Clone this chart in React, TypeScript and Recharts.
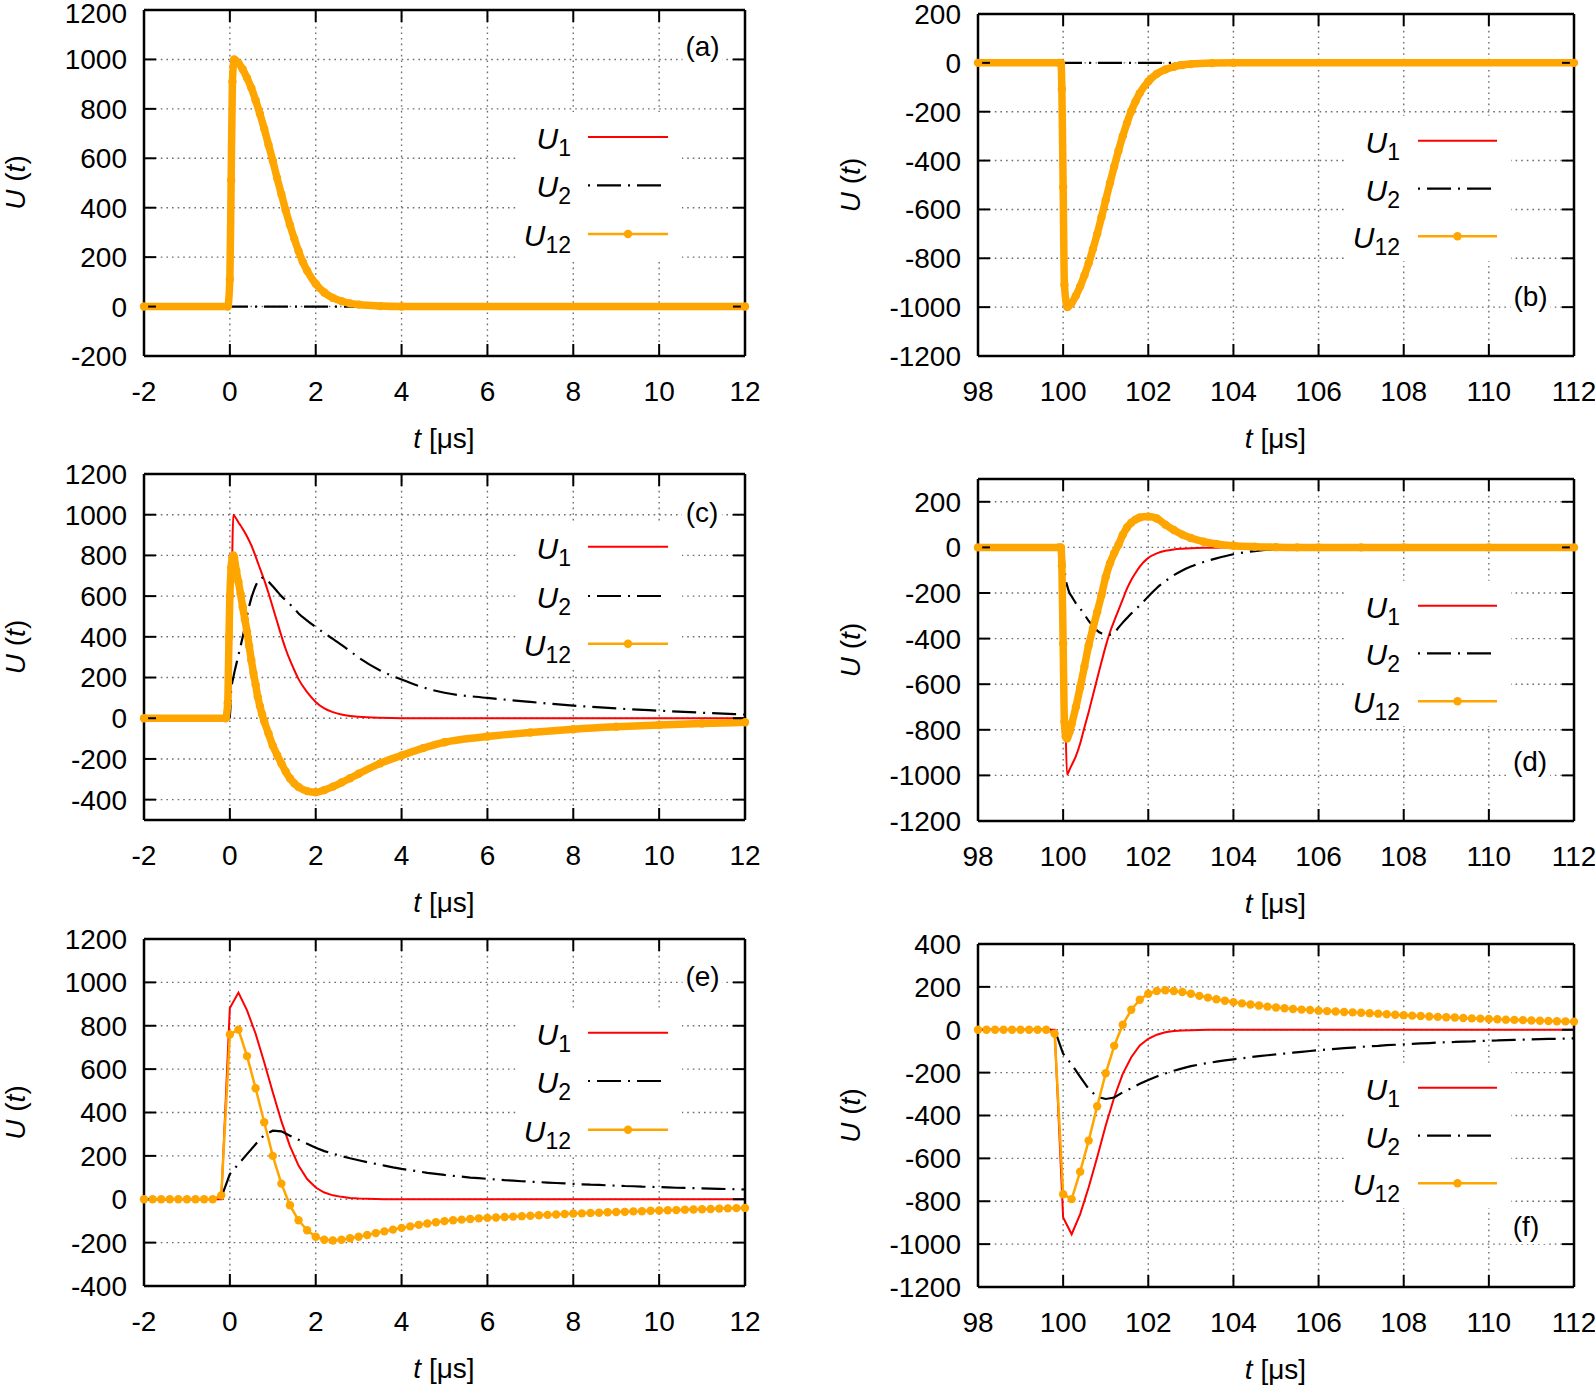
import React from 'react';
import { LineChart, Line, XAxis, YAxis, CartesianGrid } from 'recharts';

const FONT = '"Liberation Sans", Arial, Helvetica, sans-serif';
const RED = '#ff0000';
const ORANGE = '#ffa500';
const BLACK = '#000000';
const GRID = '#6e6e6e';

// ---- axis ticks ----
const xTicksLeft = [-2, 0, 2, 4, 6, 8, 10, 12];
const xTicksRight = [98, 100, 102, 104, 106, 108, 110, 112];
const yTicksA = [-200, 0, 200, 400, 600, 800, 1000, 1200];
const yTicksB = [-1200, -1000, -800, -600, -400, -200, 0, 200];
const yTicksC = [-400, -200, 0, 200, 400, 600, 800, 1000, 1200];
const yTicksD = [-1200, -1000, -800, -600, -400, -200, 0, 200];
const yTicksE = [-400, -200, 0, 200, 400, 600, 800, 1000, 1200];
const yTicksF = [-1200, -1000, -800, -600, -400, -200, 0, 200, 400];

// ---- panel (a) ----
const tA = [-2, -0.05, 0, 0.03, 0.06, 0.1, 0.2, 0.3, 0.4, 0.5, 0.6, 0.7, 0.8, 0.9, 1.0, 1.1, 1.2, 1.3, 1.4, 1.5, 1.6, 1.7, 1.8, 2.0, 2.2, 2.4, 2.6, 2.8, 3.0, 3.5, 4, 12];
const u12A = [0, 0, 110, 510, 910, 1000, 985, 960, 925, 885, 835, 780, 720, 655, 590, 520, 455, 390, 330, 275, 225, 180, 145, 92, 57, 35, 22, 13, 8, 2, 0, 0];
const u1A = u12A;
const tA2 = [-2, 12];
const u2A = [0, 0];

// ---- panel (b) ----
const tB = [98, 99.9, 99.95, 99.97, 100, 100.03, 100.1, 100.2, 100.3, 100.4, 100.5, 100.6, 100.7, 100.8, 100.9, 101.0, 101.1, 101.2, 101.3, 101.4, 101.5, 101.6, 101.7, 101.8, 102, 102.2, 102.4, 102.6, 102.8, 103, 103.5, 104, 112];
const u12B = [0, 0, 0, -108, -508, -908, -1000, -982, -953, -915, -870, -820, -762, -700, -632, -562, -492, -424, -360, -300, -246, -198, -158, -124, -76, -45, -27, -16, -9, -5, -1, 0, 0];
const u1B = u12B;
const tB2 = [98, 112];
const u2B = [0, 0];

// ---- panel (c) ----
const tC = [-2, -0.1, -0.05, -0.02, 0, 0.03, 0.06, 0.08, 0.1, 0.15, 0.2, 0.25, 0.3, 0.35, 0.4, 0.45, 0.5, 0.55, 0.6, 0.65, 0.7, 0.75, 0.8, 0.9, 1.0, 1.1, 1.2, 1.3, 1.4, 1.5, 1.6, 1.8, 2.0, 2.2, 2.4, 2.6, 2.8, 3.0, 3.5, 4.0, 4.5, 5.0, 6, 7, 8, 9, 10, 11, 12];
const u1C = [0, 0, 0, 0, 0, 400, 850, 1000, 995, 980, 962, 947, 930, 912, 893, 872, 850, 823, 795, 766, 737, 708, 680, 615, 545, 475, 405, 340, 285, 237, 192, 128, 80, 48, 30, 18, 11, 7, 2, 0, 0, 0, 0, 0, 0, 0, 0, 0, 0];
const u2C = [0, 0, 0, 0, 0, 140, 180, 200, 220, 265, 310, 355, 400, 450, 505, 550, 590, 622, 650, 670, 684, 690, 690, 672, 648, 624, 600, 580, 560, 538, 515, 480, 448, 418, 390, 360, 330, 298, 235, 190, 152, 125, 100, 80, 62, 48, 37, 27, 18];
const u12C = [0, 0, 75, 400, 600, 740, 790, 800, 790, 725, 670, 610, 545, 485, 425, 355, 285, 222, 165, 105, 60, 20, -15, -75, -135, -180, -222, -262, -295, -320, -338, -358, -364, -353, -336, -316, -295, -273, -222, -183, -147, -118, -90, -70, -54, -42, -33, -26, -20];

// ---- panel (d) ----
const tD = [98, 99.9, 99.95, 99.97, 100, 100.03, 100.06, 100.09, 100.15, 100.2, 100.3, 100.4, 100.5, 100.6, 100.7, 100.8, 100.9, 101.0, 101.1, 101.2, 101.3, 101.4, 101.5, 101.6, 101.7, 101.8, 102.0, 102.2, 102.4, 102.6, 102.8, 103.0, 103.3, 103.6, 104.0, 104.5, 105.0, 105.5, 106, 107, 108, 110, 112];
const u1D = [0, 0, 0, 0, 0, -400, -800, -996, -975, -955, -915, -860, -790, -722, -648, -575, -503, -433, -372, -322, -275, -228, -181, -143, -112, -84, -46, -26, -15, -9, -6, -4, -2, -1, 0, 0, 0, 0, 0, 0, 0, 0, 0];
const u2D = [0, 0, 0, 0, 0, -90, -140, -165, -200, -215, -245, -268, -295, -322, -345, -365, -377, -382, -383, -375, -352, -330, -310, -290, -272, -254, -215, -178, -148, -122, -101, -84, -64, -48, -30, -16, -8, -4, -2, 0, 0, 0, 0];
const u12D = [0, 0, 0, -82, -422, -765, -830, -838, -810, -775, -700, -614, -522, -430, -355, -283, -210, -130, -70, -25, 12, 55, 87, 108, 122, 131, 135, 127, 100, 76, 56, 41, 25, 15, 7, 3, 1, 0, 0, 0, 0, 0, 0];

// ---- panel (e) ----
const tE = [-2, -1.8, -1.6, -1.4, -1.2, -1, -0.8, -0.6, -0.4, -0.2, 0, 0.2, 0.4, 0.6, 0.8, 1, 1.2, 1.4, 1.6, 1.8, 2, 2.2, 2.4, 2.6, 2.8, 3, 3.2, 3.4, 3.6, 3.8, 4, 4.2, 4.4, 4.6, 4.8, 5, 5.2, 5.4, 5.6, 5.8, 6, 6.2, 6.4, 6.6, 6.8, 7, 7.2, 7.4, 7.6, 7.8, 8, 8.2, 8.4, 8.6, 8.8, 9, 9.2, 9.4, 9.6, 9.8, 10, 10.2, 10.4, 10.6, 10.8, 11, 11.2, 11.4, 11.6, 11.8, 12];
const u1E = [0, 0, 0, 0, 0, 0, 0, 0, 0, 0, 882, 953, 871, 763, 632, 493, 360, 245, 155, 93, 54, 31, 18, 11, 6, 3, 2, 1, 0, 0, 0, 0, 0, 0, 0, 0, 0, 0, 0, 0, 0, 0, 0, 0, 0, 0, 0, 0, 0, 0, 0, 0, 0, 0, 0, 0, 0, 0, 0, 0, 0, 0, 0, 0, 0, 0, 0, 0, 0, 0, 0];
const u2E = [0, 0, 0, 0, 0, 0, 0, 0, 0, 8, 116, 162, 208, 254, 296, 316, 313, 293, 274, 256, 237, 222, 210, 199, 189, 180, 171, 163, 155, 147, 140, 134, 128, 122, 117, 112, 108, 104, 100, 97, 94, 91, 88, 86, 83, 81, 79, 77, 75, 73, 71, 69, 67, 66, 64, 63, 61, 60, 58, 57, 56, 55, 53, 52, 51, 50, 49, 48, 47, 46, 45];
const u12E = [0, 0, 0, 0, 0, 0, 0, 0, 0, 18, 760, 782, 660, 512, 355, 200, 72, -28, -97, -143, -173, -187, -190, -187, -180, -173, -165, -156, -148, -140, -132, -125, -118, -112, -106, -101, -97, -94, -91, -88, -86, -84, -82, -80, -78, -76, -74, -72, -70, -68, -66, -65, -63, -62, -60, -59, -58, -56, -55, -53, -52, -51, -50, -48, -47, -46, -45, -43, -42, -41, -40];

// ---- panel (f) ----
const tF = [98, 98.2, 98.4, 98.6, 98.8, 99, 99.2, 99.4, 99.6, 99.8, 100, 100.2, 100.4, 100.6, 100.8, 101, 101.2, 101.4, 101.6, 101.8, 102, 102.2, 102.4, 102.6, 102.8, 103, 103.2, 103.4, 103.6, 103.8, 104, 104.2, 104.4, 104.6, 104.8, 105, 105.2, 105.4, 105.6, 105.8, 106, 106.2, 106.4, 106.6, 106.8, 107, 107.2, 107.4, 107.6, 107.8, 108, 108.2, 108.4, 108.6, 108.8, 109, 109.2, 109.4, 109.6, 109.8, 110, 110.2, 110.4, 110.6, 110.8, 111, 111.2, 111.4, 111.6, 111.8, 112];
const u1F = [0, 0, 0, 0, 0, 0, 0, 0, 0, 0, -876, -954, -860, -735, -595, -447, -315, -206, -128, -73, -42, -23, -12, -6, -3, -2, -1, 0, 0, 0, 0, 0, 0, 0, 0, 0, 0, 0, 0, 0, 0, 0, 0, 0, 0, 0, 0, 0, 0, 0, 0, 0, 0, 0, 0, 0, 0, 0, 0, 0, 0, 0, 0, 0, 0, 0, 0, 0, 0, 0, 0];
const u2F = [0, 0, 0, 0, 0, 0, 0, 0, 0, 0, -112, -162, -220, -276, -313, -323, -316, -292, -273, -252, -234, -218, -204, -191, -180, -170, -162, -155, -149, -143, -138, -133, -128, -123, -119, -115, -111, -107, -103, -99, -95, -92, -89, -86, -83, -80, -77, -75, -72, -70, -68, -66, -64, -62, -60, -58, -57, -55, -54, -52, -51, -50, -48, -47, -46, -45, -44, -43, -42, -41, -40];
const u12F = [0, 0, 0, 0, 0, 0, 0, 0, 0, -19, -767, -790, -662, -517, -357, -203, -75, 23, 93, 140, 168, 181, 184, 181, 176, 168, 158, 150, 142, 135, 129, 123, 118, 113, 108, 104, 100, 97, 94, 92, 89, 87, 85, 83, 81, 79, 77, 75, 72, 70, 68, 66, 64, 62, 60, 58, 57, 55, 53, 52, 50, 49, 47, 46, 45, 43, 42, 41, 40, 39, 38];

type Series = { t: number[]; v: number[] };
type Panel = {
  tag: string;
  col: 'L' | 'R';
  plot: { x: number; y: number; w: number; h: number };
  xDomain: [number, number];
  xTicks: number[];
  yDomain: [number, number];
  yTicks: number[];
  u1: Series;
  u2: Series;
  u12: Series;
  dense: boolean;
  legendYs: number[];
  tagX: number;
  tagY: number;
};

const panels: Panel[] = [
  {
    tag: '(a)', col: 'L', plot: { x: 143.5, y: 9.5, w: 601, h: 346 },
    xDomain: [-2, 12], xTicks: xTicksLeft, yDomain: [-200, 1200], yTicks: yTicksA,
    u1: { t: tA, v: u1A }, u2: { t: tA2, v: u2A }, u12: { t: tA, v: u12A }, dense: true,
    legendYs: [137, 185.3, 234], tagX: 702.5, tagY: 56,
  },
  {
    tag: '(b)', col: 'R', plot: { x: 977.5, y: 14, w: 596, h: 342 },
    xDomain: [98, 112], xTicks: xTicksRight, yDomain: [-1200, 200], yTicks: yTicksB,
    u1: { t: tB, v: u1B }, u2: { t: tB2, v: u2B }, u12: { t: tB, v: u12B }, dense: true,
    legendYs: [140.7, 188.7, 236.3], tagX: 1530.5, tagY: 306,
  },
  {
    tag: '(c)', col: 'L', plot: { x: 143.5, y: 474, w: 601, h: 346 },
    xDomain: [-2, 12], xTicks: xTicksLeft, yDomain: [-500, 1200], yTicks: yTicksC,
    u1: { t: tC, v: u1C }, u2: { t: tC, v: u2C }, u12: { t: tC, v: u12C }, dense: true,
    legendYs: [546.7, 596, 643.7], tagX: 702, tagY: 521.5,
  },
  {
    tag: '(d)', col: 'R', plot: { x: 977.5, y: 479, w: 596, h: 342 },
    xDomain: [98, 112], xTicks: xTicksRight, yDomain: [-1200, 300], yTicks: yTicksD,
    u1: { t: tD, v: u1D }, u2: { t: tD, v: u2D }, u12: { t: tD, v: u12D }, dense: true,
    legendYs: [605.7, 653.3, 701.3], tagX: 1530, tagY: 771,
  },
  {
    tag: '(e)', col: 'L', plot: { x: 143.5, y: 939, w: 601, h: 347 },
    xDomain: [-2, 12], xTicks: xTicksLeft, yDomain: [-400, 1200], yTicks: yTicksE,
    u1: { t: tE, v: u1E }, u2: { t: tE, v: u2E }, u12: { t: tE, v: u12E }, dense: false,
    legendYs: [1032.7, 1081, 1129.7], tagX: 702.5, tagY: 986,
  },
  {
    tag: '(f)', col: 'R', plot: { x: 977.5, y: 944, w: 596, h: 343 },
    xDomain: [98, 112], xTicks: xTicksRight, yDomain: [-1200, 400], yTicks: yTicksF,
    u1: { t: tF, v: u1F }, u2: { t: tF, v: u2F }, u12: { t: tF, v: u12F }, dense: false,
    legendYs: [1087.7, 1135.7, 1183.3], tagX: 1526, tagY: 1236,
  },
];

const LEGEND = {
  L: { textRight: 571, x1: 588, x2: 668, titleX: 15 },
  R: { textRight: 1400, x1: 1418, x2: 1497, titleX: 850 },
};

const DASHDOT = '24 7 2 7';
const ML = 150; // y axis width
const MT = 14;
const MR = 26;
const MB = 70;

const tickStyle = { fill: BLACK, fontSize: 28, fontFamily: FONT };
const frame = { stroke: BLACK, strokeWidth: 2.5 };
const inTick = { stroke: BLACK, strokeWidth: 2 };
const noLabel = () => <g />;

const rows = (s: Series) => s.t.map((t, i) => ({ t, v: s.v[i] }));

function PanelChart({ p }: { p: Panel }) {
  const W = p.plot.w + ML + MR;
  const H = p.plot.h + MT + MB;
  const top = p.plot.y - MT;
  // keep the top-most label inside the page
  const minY = 13 - top;
  const yTick = (props: any) => {
    const { x, y, payload } = props;
    return (
      <text x={x} y={Math.max(y, minY)} dy="0.355em" textAnchor="end" fill={BLACK} fontSize={28} fontFamily={FONT}>
        {payload.value}
      </text>
    );
  };
  return (
    <div style={{ position: 'absolute', left: p.plot.x - ML, top, width: W, height: H }}>
      <LineChart width={W} height={H} margin={{ top: MT, right: MR, bottom: 0, left: 0 }}>
        <CartesianGrid stroke={GRID} strokeDasharray="1.6 4" strokeWidth={1.4} />
        <XAxis dataKey="t" type="number" domain={p.xDomain} ticks={p.xTicks} interval={0} height={MB}
          tickSize={0} tickMargin={25} tickLine={false} axisLine={frame} tick={tickStyle} />
        <YAxis type="number" domain={p.yDomain} ticks={p.yTicks} interval={0} width={ML}
          tickSize={0} tickMargin={17} tickLine={false} axisLine={frame} tick={yTick} />
        <XAxis xAxisId="top" orientation="top" mirror dataKey="t" type="number" domain={p.xDomain} ticks={p.xTicks}
          interval={0} allowDataOverflow tick={noLabel} tickSize={12} tickLine={inTick} axisLine={frame} />
        <XAxis xAxisId="bin" orientation="bottom" mirror dataKey="t" type="number" domain={p.xDomain} ticks={p.xTicks}
          interval={0} allowDataOverflow tick={noLabel} tickSize={12} tickLine={inTick} axisLine={false} />
        <YAxis yAxisId="right" orientation="right" mirror type="number" domain={p.yDomain} ticks={p.yTicks}
          interval={0} allowDataOverflow tick={noLabel} tickSize={12} tickLine={inTick} axisLine={frame} />
        <YAxis yAxisId="lin" orientation="left" mirror type="number" domain={p.yDomain} ticks={p.yTicks}
          interval={0} allowDataOverflow tick={noLabel} tickSize={12} tickLine={inTick} axisLine={false} />
        <Line data={rows(p.u1)} dataKey="v" type={p.dense ? 'monotone' : 'linear'} stroke={RED} strokeWidth={2}
          dot={false} isAnimationActive={false} />
        <Line data={rows(p.u2)} dataKey="v" type={p.dense ? 'monotone' : 'linear'} stroke={BLACK} strokeWidth={2.2}
          strokeDasharray={DASHDOT} dot={false} isAnimationActive={false} />
        <Line data={rows(p.u12)} dataKey="v" type={p.dense ? 'monotone' : 'linear'} stroke={ORANGE}
          strokeWidth={p.dense ? 7.5 : 2.5} strokeLinecap="round" strokeLinejoin="round"
          dot={{ r: 4.2, fill: ORANGE, stroke: ORANGE, strokeWidth: 0 }} isAnimationActive={false} />
      </LineChart>
    </div>
  );
}

function Overlay() {
  return (
    <svg width={1595} height={1386} style={{ position: 'absolute', left: 0, top: 0, pointerEvents: 'none' }}
      fontFamily={FONT} fontSize={28}>
      {panels.map((p) => {
        const lg = LEGEND[p.col];
        const [y1, y2, y3] = p.legendYs;
        const cx = p.plot.x + p.plot.w / 2;
        const cy = p.plot.y + p.plot.h / 2;
        const bottom = p.plot.y + p.plot.h;
        const entries = [
          { y: y1, sub: '1' },
          { y: y2, sub: '2' },
          { y: y3, sub: '12' },
        ];
        return (
          <g key={p.tag}>
            <rect x={lg.textRight - 54} y={y1 - 25} width={lg.x2 + 14 - (lg.textRight - 54)} height={y3 - y1 + 50} fill="#fff" />
            {entries.map((e) => (
              <text key={e.sub} x={lg.textRight} y={e.y + 12} textAnchor="end" fill={BLACK} fontSize={30}>
                <tspan fontStyle="italic">U</tspan>
                <tspan fontSize={23} dy={7}>{e.sub}</tspan>
              </text>
            ))}
            <line x1={lg.x1} x2={lg.x2} y1={y1} y2={y1} stroke={RED} strokeWidth={2} />
            <line x1={lg.x1} x2={lg.x2} y1={y2} y2={y2} stroke={BLACK} strokeWidth={2.2} strokeDasharray={DASHDOT} strokeDashoffset={31} />
            <line x1={lg.x1} x2={lg.x2} y1={y3} y2={y3} stroke={ORANGE} strokeWidth={2.5} />
            <circle cx={(lg.x1 + lg.x2) / 2} cy={y3} r={4.2} fill={ORANGE} />
            <rect x={p.tagX - 20} y={p.tagY - 22} width={40} height={30} fill="#fff" />
            <text x={p.tagX} y={p.tagY} textAnchor="middle" fill={BLACK}>{p.tag}</text>
            <text x={cx} y={bottom + 92} textAnchor="middle" fill={BLACK}>
              <tspan fontStyle="italic">t</tspan>{' [μs]'}
            </text>
            <text transform={`translate(${lg.titleX + 10},${cy}) rotate(-90)`} textAnchor="middle" fill={BLACK}>
              <tspan fontStyle="italic">U</tspan>{' ('}<tspan fontStyle="italic">t</tspan>{')'}
            </text>
          </g>
        );
      })}
    </svg>
  );
}

export default function App() {
  return (
    <div style={{ position: 'absolute', left: 0, top: 0, width: 1595, height: 1386, background: '#fff', fontFamily: FONT }}>
      {panels.map((p) => (
        <PanelChart key={p.tag} p={p} />
      ))}
      <Overlay />
    </div>
  );
}
